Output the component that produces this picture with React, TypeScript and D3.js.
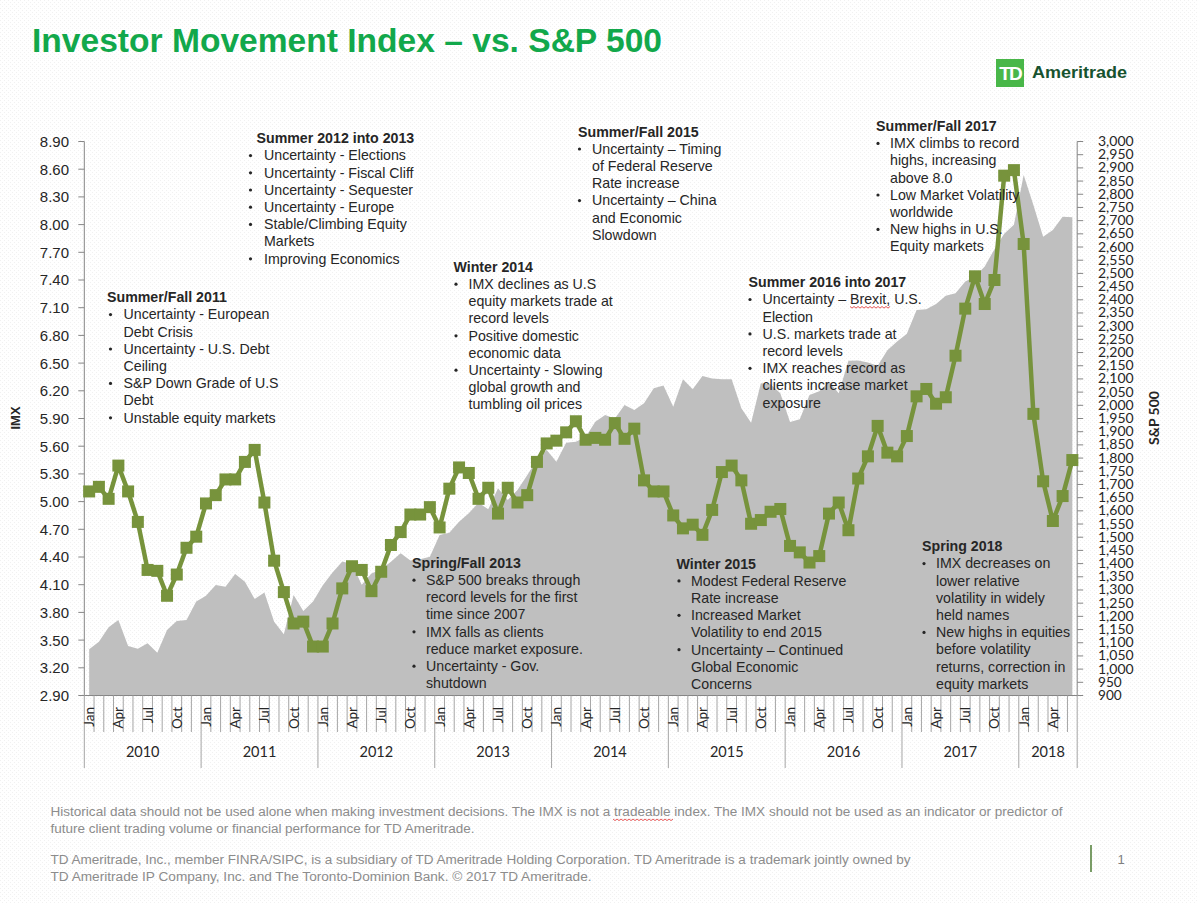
import { area, line, scaleBand, scaleLinear } from "d3";

// months on the category axis
const years = ["2010", "2011", "2012", "2013", "2014", "2015", "2016", "2017", "2018"];
const monthNames = ["Jan", "Feb", "Mar", "Apr", "May", "Jun", "Jul", "Aug", "Sep", "Oct", "Nov", "Dec"];
const monthsShownLastYear = 6;
const labelledMonths = ["Jan", "Apr", "Jul", "Oct"];

// Investor Movement Index, one value per month (Jan 2010 - Jun 2018)
const imxValues = [
  5.11, 5.16, 5.03, 5.39, 5.11, 4.78, 4.26, 4.25, 3.98, 4.21, 4.5, 4.62,
  4.98, 5.07, 5.24, 5.24, 5.43, 5.56, 4.99, 4.36, 4.02, 3.68, 3.7, 3.43,
  3.43, 3.68, 4.06, 4.3, 4.26, 4.03, 4.24, 4.53, 4.67, 4.86, 4.86, 4.94,
  4.72, 5.14, 5.37, 5.31, 5.03, 5.15, 4.87, 5.15, 4.99, 5.07, 5.43, 5.63,
  5.66, 5.75, 5.87, 5.67, 5.69, 5.67, 5.85, 5.68, 5.79, 5.23, 5.11, 5.11,
  4.85, 4.71, 4.75, 4.64, 4.91, 5.32, 5.39, 5.23, 4.76, 4.8, 4.89, 4.92,
  4.52, 4.45, 4.34, 4.41, 4.87, 4.99, 4.69, 5.25, 5.49, 5.82, 5.53, 5.49,
  5.71, 6.14, 6.22, 6.06, 6.13, 6.58, 7.09, 7.44, 7.14, 7.4, 8.53, 8.59,
  7.79, 5.95, 5.22, 4.79, 5.06, 5.45,
];

// S&P 500, same months
const spxValues = [
  1075, 1104, 1159, 1186, 1088, 1077, 1098, 1062, 1148, 1182, 1186, 1256,
  1278, 1319, 1312, 1361, 1331, 1266, 1290, 1180, 1132, 1281, 1220, 1256,
  1318, 1366, 1408, 1398, 1320, 1362, 1379, 1407, 1439, 1412, 1416, 1426,
  1508, 1517, 1559, 1591, 1631, 1606, 1686, 1641, 1679, 1735, 1795, 1831,
  1786, 1858, 1862, 1880, 1938, 1963, 1950, 2001, 1982, 2008, 2065, 2075,
  1995, 2099, 2061, 2111, 2102, 2099, 2099, 1989, 1934, 2084, 2080, 2046,
  1937, 1947, 2039, 2053, 2090, 2046, 2169, 2170, 2162, 2150, 2209, 2242,
  2271, 2361, 2364, 2384, 2415, 2425, 2469, 2488, 2526, 2592, 2650, 2684,
  2873, 2759, 2639, 2665, 2715, 2713,
];

const imxTicks = [2.9, 3.2, 3.5, 3.8, 4.1, 4.4, 4.7, 5.0, 5.3, 5.6, 5.9, 6.2, 6.5, 6.8, 7.1, 7.4, 7.7, 8.0, 8.3, 8.6, 8.9];
const spxTicks = [
  900, 950, 1000, 1050, 1100, 1150, 1200, 1250, 1300, 1350, 1400, 1450, 1500, 1550, 1600, 1650, 1700, 1750, 1800,
  1850, 1900, 1950, 2000, 2050, 2100, 2150, 2200, 2250, 2300, 2350, 2400, 2450, 2500, 2550, 2600, 2650, 2700,
  2750, 2800, 2850, 2900, 2950, 3000,
];

const noteTitles = [
  "Summer 2012 into 2013",
  "Summer/Fall 2011",
  "Summer/Fall 2015",
  "Winter 2014",
  "Spring/Fall 2013",
  "Winter 2015",
  "Summer 2016 into 2017",
  "Summer/Fall 2017",
  "Spring 2018",
];
const noteBullets = [
  [["Uncertainty - Elections"], ["Uncertainty - Fiscal Cliff"], ["Uncertainty - Sequester"], ["Uncertainty - Europe"], ["Stable/Climbing Equity", "Markets"], ["Improving Economics"]],
  [["Uncertainty - European", "Debt Crisis"], ["Uncertainty - U.S. Debt", "Ceiling"], ["S&P Down Grade of U.S", "Debt"], ["Unstable equity markets"]],
  [["Uncertainty \u2013 Timing", "of Federal Reserve", "Rate increase"], ["Uncertainty \u2013 China", "and Economic", "Slowdown"]],
  [["IMX declines as U.S", "equity markets trade at", "record levels"], ["Positive domestic", "economic data"], ["Uncertainty - Slowing", "global growth and", "tumbling oil prices"]],
  [["S&P 500 breaks through", "record levels for the first", "time since 2007"], ["IMX falls as clients", "reduce market exposure."], ["Uncertainty - Gov.", "shutdown"]],
  [["Modest Federal Reserve", "Rate increase"], ["Increased Market", "Volatility to end 2015"], ["Uncertainty \u2013 Continued", "Global Economic", "Concerns"]],
  [["Uncertainty \u2013 Brexit, U.S.", "Election"], ["U.S. markets trade at", "record levels"], ["IMX reaches record as", "clients increase market", "exposure"]],
  [["IMX climbs to record", "highs, increasing", "above 8.0"], ["Low Market Volatility", "worldwide"], ["New highs in U.S.", "Equity markets"]],
  [["IMX decreases on", "lower relative", "volatility in widely", "held names"], ["New highs in equities", "before volatility", "returns, correction in", "equity markets"]],
];

const footerLines = [
  "Historical data should not be used alone when making investment decisions. The IMX is not a tradeable index. The IMX should not be used as an indicator or predictor of",
  "future client trading volume or financial performance for TD Ameritrade.",
  "TD Ameritrade, Inc., member FINRA/SIPC, is a subsidiary of TD Ameritrade Holding Corporation. TD Ameritrade is a trademark jointly owned by",
  "TD Ameritrade IP Company, Inc. and The Toronto-Dominion Bank. \u00a9 2017 TD Ameritrade.",
];

// layout
const W = 1197;
const H = 903;
const left = 84.3;
const right = 1077.2;
const top = 141.5;
const bottom = 695.5;
const lineGap = 17.2;
const notePos = [
  { hx: 256.5, bx: 250.5, tx: 264, y: 143.2 },
  { hx: 107, bx: 110.5, tx: 123.5, y: 302.2 },
  { hx: 578, bx: 579.5, tx: 592, y: 136.6 },
  { hx: 453.5, bx: 456, tx: 468.5, y: 271.8 },
  { hx: 412, bx: 414, tx: 426, y: 567.8 },
  { hx: 676.5, bx: 679, tx: 691, y: 568.5 },
  { hx: 748.5, bx: 750, tx: 762.5, y: 287.1 },
  { hx: 876, bx: 878, tx: 890, y: 131 },
  { hx: 922, bx: 924, tx: 936, y: 551.2 },
];
const footerPos = [
  { x: 50.5, y: 815.5, w: 1012 },
  { x: 50.5, y: 832.5, w: 424 },
  { x: 50.5, y: 863.5, w: 860 },
  { x: 50.5, y: 880.5, w: 541 },
];

const arial = "'Liberation Sans', Arial, sans-serif";
const calibri = "Lato, 'Open Sans', sans-serif";

function squiggle(x0: number, x1: number, y: number) {
  let d = `M ${x0} ${y}`;
  for (let x = x0, k = 0; x < x1; x += 2, k++) d += ` L ${x + 2} ${y + (k % 2 ? 0 : 1.6)}`;
  return d;
}

export default function App() {
  const months = years.flatMap((yr, yi) =>
    monthNames.slice(0, yi === years.length - 1 ? monthsShownLastYear : 12).map((m) => `${m} ${yr}`)
  );
  const x = scaleBand<string>().domain(months).range([left, right]);
  const bw = x.bandwidth();
  const cx = (i: number) => (x(months[i]) ?? 0) + bw / 2;
  const yL = scaleLinear().domain([2.9, 8.9]).range([bottom, top]);
  const yR = scaleLinear().domain([900, 3000]).range([bottom, top]);

  const spxArea = area<number>()
    .x((_, i) => cx(i))
    .y0(yR(900))
    .y1((d) => yR(d))(spxValues);
  const imxLine = line<number>()
    .x((_, i) => cx(i))
    .y((d) => yL(d))(imxValues);

  const yearStarts = years.map((yr) => months.findIndex((m) => m.endsWith(yr)));

  return (
    <>
      <style>{`body{margin:0}`}</style>
      <svg width={W} height={H} viewBox={`0 0 ${W} ${H}`} style={{ display: "block" }}>
        <defs>
          <pattern id="dots" width="4" height="4" patternUnits="userSpaceOnUse">
            <rect width="4" height="4" fill="#ffffff" />
            <rect width="1" height="1" fill="#f1f1f1" />
            <rect x="2" y="2" width="1" height="1" fill="#f1f1f1" />
          </pattern>
        </defs>
        <rect width={W} height={H} fill="url(#dots)" />

        <text x={32} y={52} fontFamily={arial} fontWeight="bold" fontSize={34} fill="#12a84b" textLength={630} lengthAdjust="spacingAndGlyphs">
          Investor Movement Index – vs. S&amp;P 500
        </text>

        {/* logo */}
        <rect x={996} y={59} width={28} height={28} fill="#49b749" />
        <text x={1010} y={80} textAnchor="middle" fontFamily={arial} fontWeight="bold" fontSize={19} fill="#ffffff" letterSpacing={-2}>
          TD
        </text>
        <text x={1032} y={78} fontFamily={arial} fontWeight="bold" fontSize={16} fill="#17532f" textLength={95} lengthAdjust="spacingAndGlyphs">
          Ameritrade
        </text>

        {/* S&P 500 area */}
        {spxArea ? <path d={spxArea} fill="#bfbfbf" /> : null}

        {/* axes */}
        <line x1={left} x2={left} y1={top} y2={bottom} stroke="#868686" />
        <line x1={right} x2={right} y1={top} y2={bottom} stroke="#868686" />
        <line x1={left} x2={right} y1={bottom} y2={bottom} stroke="#868686" />
        {imxTicks.map((t) => (
          <g key={`l${t}`}>
            <line x1={left - 6} x2={left} y1={yL(t)} y2={yL(t)} stroke="#868686" />
            <text x={69} y={yL(t)} dy="0.36em" textAnchor="end" fontFamily={arial} fontSize={15} fill="#262626">
              {t.toFixed(2)}
            </text>
          </g>
        ))}
        {spxTicks.map((t) => {
          const label = t.toLocaleString("en-US");
          const digits = label.replace(",", "").length;
          return (
            <g key={`r${t}`}>
              <line x1={right} x2={right + 6} y1={yR(t)} y2={yR(t)} stroke="#868686" />
              <text
                x={1098}
                y={yR(t)}
                dy="0.36em"
                fontFamily={calibri}
                fontSize={12.5}
                fill="#262626"
                textLength={digits * 7.9 + (label.includes(",") ? 4 : 0)}
                lengthAdjust="spacingAndGlyphs"
              >
                {label}
              </text>
            </g>
          );
        })}
        <text transform={`translate(20,418) rotate(-90)`} textAnchor="middle" fontFamily={arial} fontWeight="bold" fontSize={13} fill="#262626">
          IMX
        </text>
        <text transform={`translate(1159,418) rotate(-90)`} textAnchor="middle" fontFamily={calibri} fontWeight="bold" fontSize={14} fill="#262626">
          S&amp;P 500
        </text>

        {/* category axis */}
        {months.map((m, i) => (
          <line key={`t${m}`} x1={x(m)} x2={x(m)} y1={bottom} y2={i % 12 === 0 ? 768 : 732} stroke="#a6a6a6" />
        ))}
        <line x1={right} x2={right} y1={bottom} y2={768} stroke="#a6a6a6" />
        {months.map((m, i) =>
          labelledMonths.includes(m.slice(0, 3)) ? (
            <text
              key={`m${m}`}
              transform={`translate(${cx(i)},707) rotate(-90)`}
              textAnchor="end"
              dominantBaseline="central"
              fontFamily={calibri}
              fontSize={13.5}
              fill="#262626"
            >
              {m.slice(0, 3)}
            </text>
          ) : null
        )}
        {years.map((yr, yi) => {
          const s = x(months[yearStarts[yi]]) ?? left;
          const e = yi < years.length - 1 ? x(months[yearStarts[yi + 1]]) ?? right : right;
          return (
            <text key={yr} x={(s + e) / 2} y={757} textAnchor="middle" fontFamily={calibri} fontSize={14.5} fill="#262626">
              {yr}
            </text>
          );
        })}

        {/* IMX line */}
        {imxLine ? <path d={imxLine} fill="none" stroke="#77933c" strokeWidth={4.5} strokeLinejoin="round" /> : null}
        {imxValues.map((v, i) => (
          <rect key={`p${i}`} x={cx(i) - 6} y={yL(v) - 6} width={12} height={12} fill="#77933c" />
        ))}

        {/* notes */}
        {noteTitles.map((title, ni) => {
          const p = notePos[ni];
          let row = 0;
          return (
            <g key={title} fontFamily={arial} fontSize={14.2} fill="#262626">
              <text x={p.hx} y={p.y} fontWeight="bold">
                {title}
              </text>
              {noteBullets[ni].map((bullet, bi) =>
                bullet.map((txt, li) => {
                  row += 1;
                  const yy = p.y + row * lineGap;
                  return (
                    <g key={`${bi}-${li}`}>
                      {li === 0 ? <circle cx={p.bx} cy={yy - 4.8} r={1.6} fill="#262626" /> : null}
                      <text x={p.tx} y={yy}>
                        {txt}
                      </text>
                    </g>
                  );
                })
              )}
            </g>
          );
        })}
        <path d={squiggle(850, 890, 306.5)} fill="none" stroke="#e03030" strokeWidth={0.8} />

        {/* footer */}
        {footerLines.map((txt, i) => (
          <text
            key={i}
            x={footerPos[i].x}
            y={footerPos[i].y}
            fontFamily={arial}
            fontSize={12.5}
            fill="#8c8c8c"
            textLength={footerPos[i].w}
            lengthAdjust="spacingAndGlyphs"
          >
            {txt}
          </text>
        ))}
        <path d={squiggle(613, 673, 819)} fill="none" stroke="#e03030" strokeWidth={0.8} />
        <line x1={1091} x2={1091} y1={845} y2={872} stroke="#4e7d35" strokeWidth={1.5} />
        <text x={1121} y={864} textAnchor="middle" fontFamily={arial} fontSize={13} fill="#7f7f7f">
          1
        </text>
      </svg>
    </>
  );
}
